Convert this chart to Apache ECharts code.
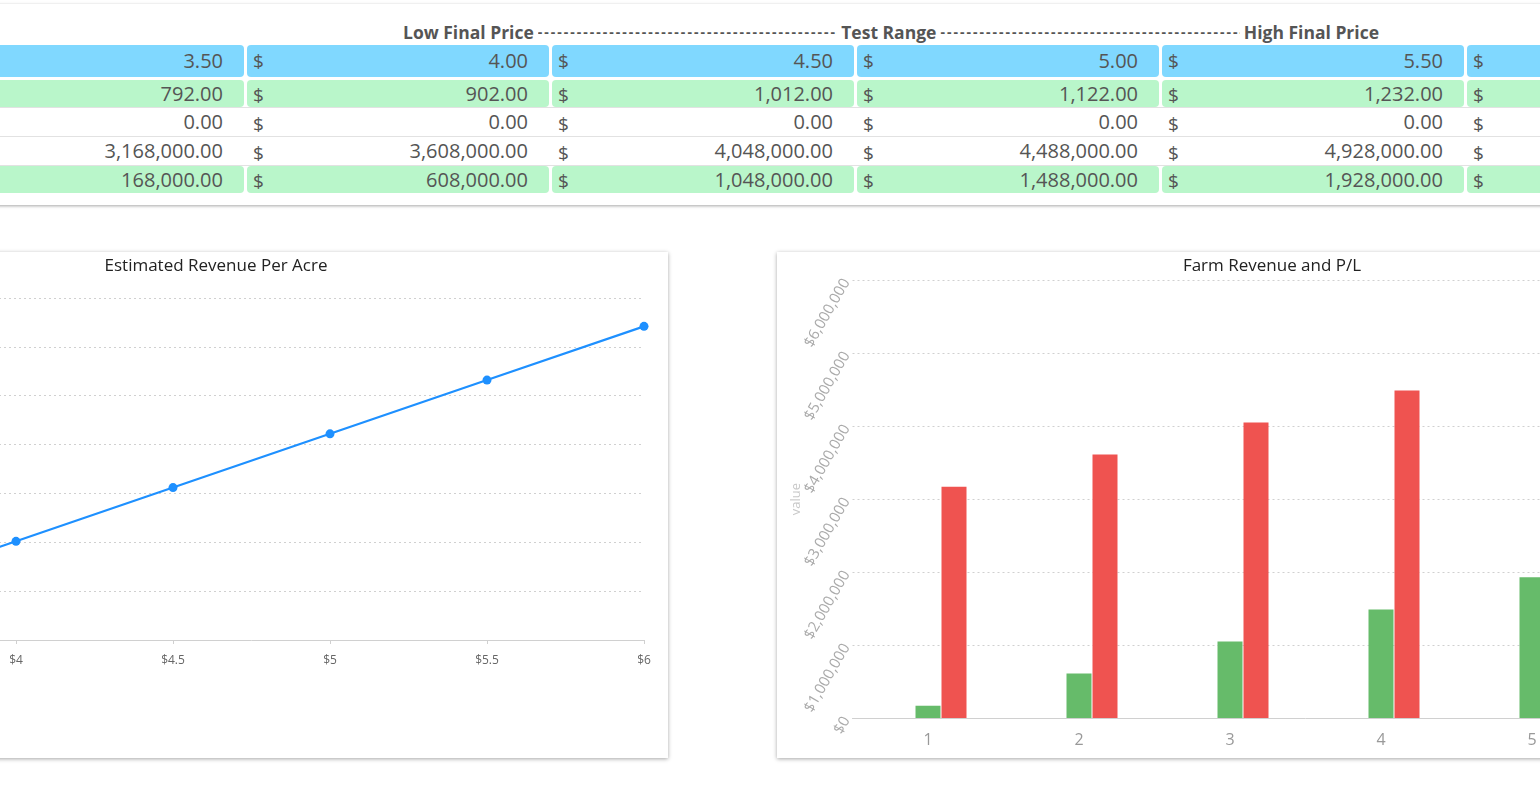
<!DOCTYPE html>
<html>
<head>
<meta charset="utf-8">
<script src="https://cdn.jsdelivr.net/npm/echarts@6/dist/echarts.min.js"></script>
<style>
html,body{margin:0;padding:0;width:1540px;height:800px;overflow:hidden;background:#fff;font-family:"Open Sans",sans-serif;}
.panel{position:absolute;background:#fff;box-shadow:0 1px 4px rgba(0,0,0,0.35);}
#topPanel{left:-20px;top:4px;width:1600px;height:201px;box-shadow:0 1px 3px rgba(0,0,0,0.35);}
#hdr{position:absolute;left:403px;top:21px;width:976px;display:flex;font-weight:700;font-size:17.5px;color:#555;white-space:nowrap;line-height:22px;}
#hdr .fill{flex:1;overflow:hidden;margin:0 4px;font-weight:700;font-size:14px;letter-spacing:2px;color:#555;}
.cell{position:absolute;border-radius:4px;color:#555;font-size:20px;}
.cell .d{position:absolute;left:6px;font-size:19px;}
.cell .v{position:absolute;right:21px;}
.sep{position:absolute;left:0;width:1540px;height:1px;background:#e2e2e2;}
#linePanel{left:-236px;top:252px;width:904px;height:506px;}
#barPanel{left:777px;top:252px;width:990px;height:506px;}
.chart{position:absolute;left:0;top:0;width:100%;height:100%;}
</style>
</head>
<body>
<div id="topPanel" class="panel"></div>
<div id="hdr"><span>Low Final Price</span><span class="fill"></span><span>Test Range</span><span class="fill"></span><span>High Final Price</span></div>
<div id="table"></div>
<div id="linePanel" class="panel"><div id="lineChart" class="chart"></div></div>
<div id="barPanel" class="panel"><div id="barChart" class="chart"></div></div>
<script>
// ---- data ----
var prices = [3.5, 4, 4.5, 5, 5.5, 6];
var revenuePerAcre = [792, 902, 1012, 1122, 1232, 1342];
var otherPayment = [0, 0, 0, 0, 0, 0];
var farmRevenue = [3168000, 3608000, 4048000, 4488000, 4928000, 5368000];
var profitLoss = [168000, 608000, 1048000, 1488000, 1928000, 2368000];
var scenarioLabels = ['1', '2', '3', '4', '5', '6'];
var priceLabels = prices.map(function (p) { return '$' + p; });

// ---- header dashes ----
var dashes = new Array(120).join('-');
document.querySelectorAll('#hdr .fill').forEach(function (el) { el.textContent = dashes; });

// ---- table ----
var rows = [prices, revenuePerAcre, otherPayment, farmRevenue, profitLoss];
var rowStyle = [
  {top: 45, h: 32, bg: '#80D8FF'},
  {top: 80, h: 27, bg: '#B9F6CA'},
  {top: 108, h: 28, bg: '#ffffff'},
  {top: 137, h: 28, bg: '#ffffff'},
  {top: 166, h: 27, bg: '#B9F6CA'}
];
var tbl = document.getElementById('table');
[107, 136, 165].forEach(function (y) {
  var s = document.createElement('div'); s.className = 'sep'; s.style.top = y + 'px'; tbl.appendChild(s);
});
rows.forEach(function (vals, r) {
  var st = rowStyle[r];
  vals.forEach(function (v, c) {
    var cell = document.createElement('div');
    cell.className = 'cell';
    cell.style.left = (-58 + c * 305) + 'px';
    cell.style.top = st.top + 'px';
    cell.style.width = '302px';
    cell.style.height = st.h + 'px';
    cell.style.lineHeight = st.h + 'px';
    cell.style.background = st.bg;
    var txt = v.toLocaleString('en-US', {minimumFractionDigits: 2, maximumFractionDigits: 2});
    cell.innerHTML = '<span class="d" style="top:' + (r === 0 ? 0 : 2) + 'px">$</span><span class="v">' + txt + '</span>';
    tbl.appendChild(cell);
  });
});

// ---- line chart ----
var titleStyle = {fontSize: 17, fontWeight: 'normal', color: '#222', fontFamily: 'Open Sans'};
var gridDash = {type: [2, 3], color: '#d0d0d0'};
var lineChart = echarts.init(document.getElementById('lineChart'));
lineChart.setOption({
  animation: false,
  title: {text: 'Estimated Revenue Per Acre', left: 'center', top: 1, textStyle: titleStyle},
  grid: {left: 95, right: 24, top: 46, bottom: 118, outerBoundsMode: 'none', containLabel: false},
  xAxis: {
    type: 'category', boundaryGap: false, data: priceLabels,
    axisLine: {lineStyle: {color: '#d0d0d0'}},
    axisTick: {show: true, length: 4, lineStyle: {color: '#d0d0d0'}},
    axisLabel: {color: '#666', fontSize: 12, margin: 15, fontFamily: 'Open Sans'}
  },
  yAxis: {
    type: 'value', min: 700, max: 1400, interval: 100,
    axisLine: {show: false}, axisTick: {show: false},
    axisLabel: {color: '#999', formatter: '${value}'},
    splitLine: {lineStyle: gridDash}
  },
  series: [{
    type: 'line', name: 'Revenue Per Acre', data: revenuePerAcre,
    symbol: 'circle', symbolSize: 9,
    lineStyle: {color: '#1E90FF', width: 2.2},
    itemStyle: {color: '#1E90FF'}
  }]
});

// ---- bar chart ----
var barChart = echarts.init(document.getElementById('barChart'));
barChart.setOption({
  animation: false,
  title: {text: 'Farm Revenue and P/L', left: 'center', top: 1, textStyle: titleStyle},
  grid: {left: 75.5, right: 8.5, top: 28, bottom: 40, outerBoundsMode: 'none', containLabel: false},
  xAxis: {
    type: 'category', data: scenarioLabels,
    axisLine: {lineStyle: {color: '#d0d0d0'}},
    axisTick: {show: false},
    axisLabel: {color: '#999', fontSize: 16, margin: 14, fontFamily: 'Open Sans'}
  },
  yAxis: {
    type: 'value', min: 0, max: 6000000, interval: 1000000,
    name: 'value', nameLocation: 'middle', nameGap: 50, nameMoveOverlap: false,
    nameTextStyle: {color: '#c8c8c8', fontSize: 13, fontFamily: 'Open Sans'},
    axisLine: {show: false}, axisTick: {show: false},
    axisLabel: {
      rotate: 60, color: '#aaa', fontSize: 15, margin: 6, fontFamily: 'Open Sans',
      formatter: function (v) { return '$' + v.toLocaleString('en-US'); }
    },
    splitLine: {lineStyle: gridDash}
  },
  series: [
    {type: 'bar', name: 'Other Payment', data: otherPayment, barWidth: 25, barGap: '4%', itemStyle: {color: '#42A5F5'}},
    {type: 'bar', name: 'P/L', data: profitLoss, barWidth: 25, barGap: '4%', itemStyle: {color: '#66BB6A'}},
    {type: 'bar', name: 'Farm Revenue', data: farmRevenue, barWidth: 25, barGap: '4%', itemStyle: {color: '#EF5350'}}
  ]
});
</script>
</body>
</html>
